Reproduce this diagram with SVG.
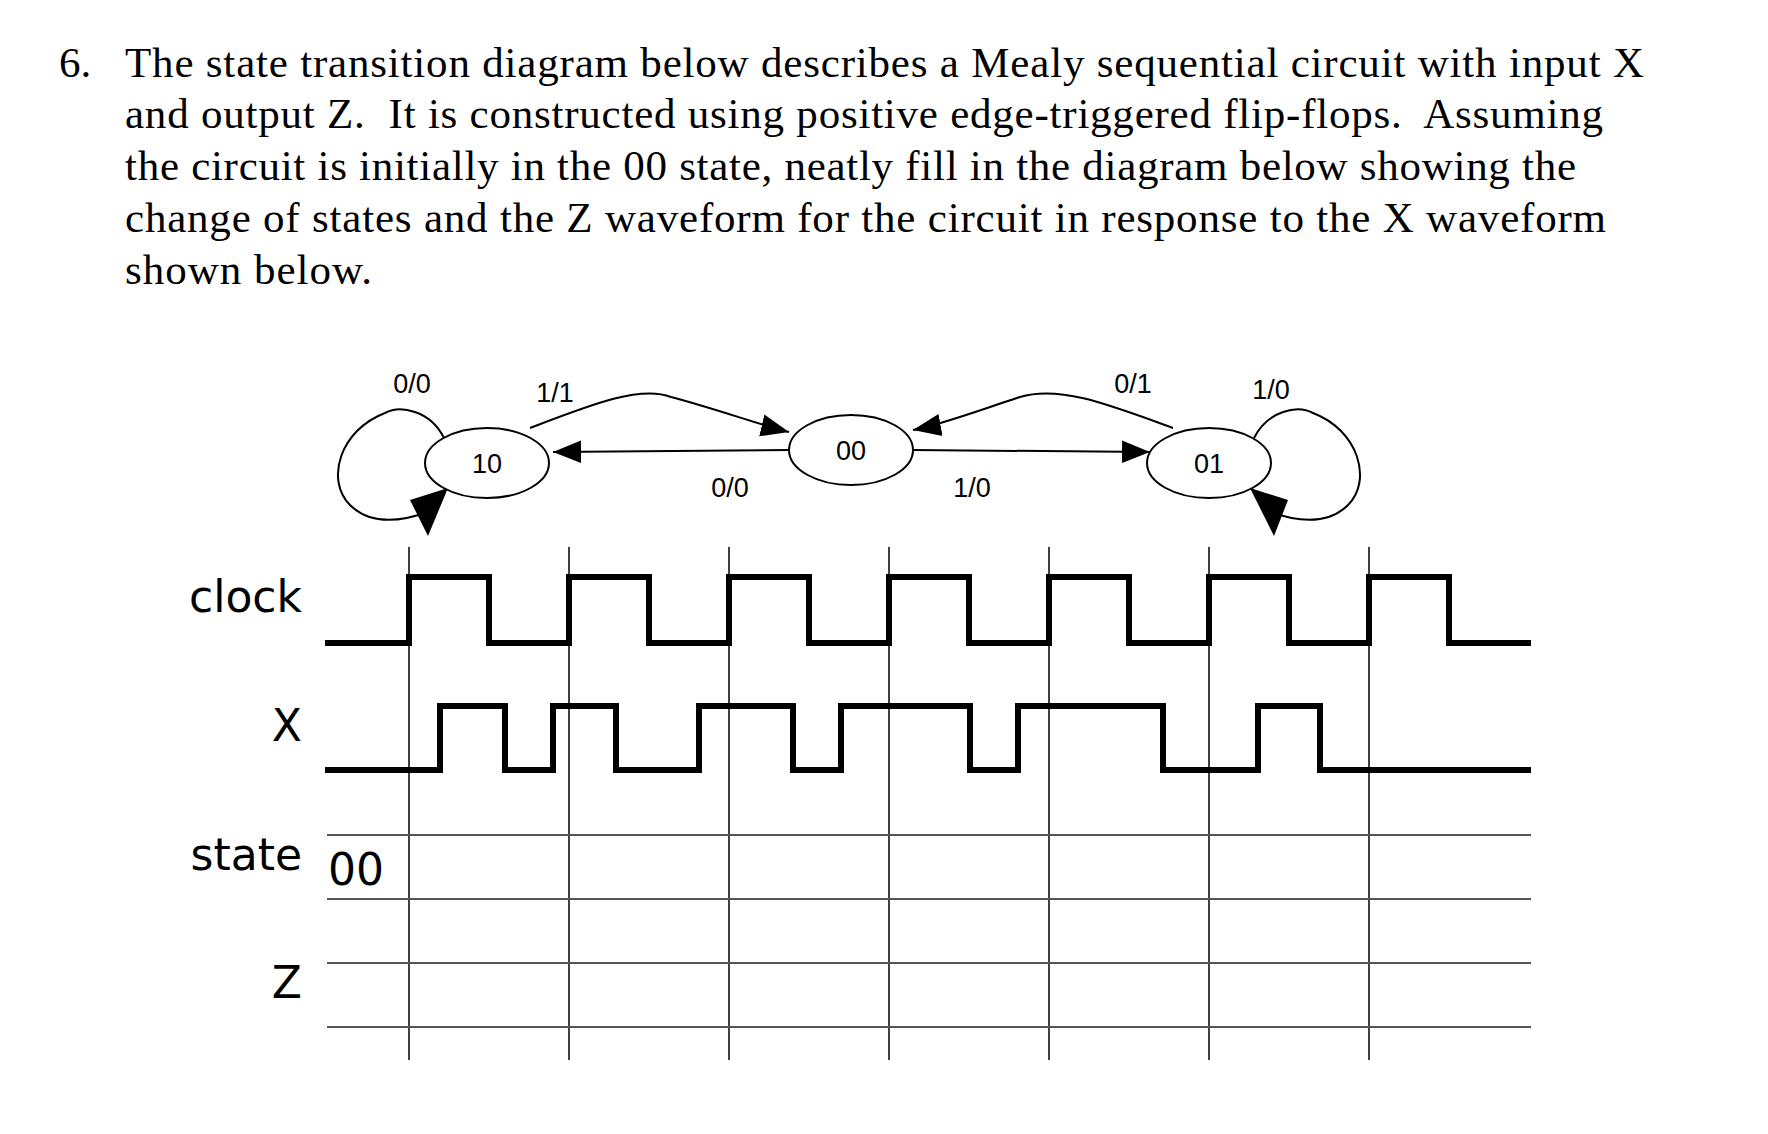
<svg xmlns="http://www.w3.org/2000/svg" width="1768" height="1134" viewBox="0 0 1768 1134">
<style>
.t{font-family:"Liberation Serif",serif;font-size:43px;fill:#000}
.s{font-family:"Liberation Sans",sans-serif;font-size:27px;fill:#000}
.l{font-family:"DejaVu Sans",sans-serif;font-size:44px;fill:#000}
.n{fill:#fff;stroke:#000;stroke-width:2}
.e{fill:none;stroke:#000;stroke-width:2}
.w{fill:none;stroke:#000;stroke-width:6}
.g{stroke:#000;stroke-width:1.5}
.h{stroke:#555;stroke-width:2}
</style>
<defs>
<marker id="b" viewBox="0 0 10 10" refX="10" refY="5" markerWidth="28" markerHeight="28" markerUnits="userSpaceOnUse" orient="auto"><path d="M0,1L10,5L0,9z"/></marker></defs>
<rect width="1768" height="1134" fill="#fff"/>
<g id="title">
<text class="t" x="59" y="77">6.</text>
<text class="t" x="125" y="77" textLength="1519" lengthAdjust="spacing">The state transition diagram below describes a Mealy sequential circuit with input X</text>
<text class="t" x="125" y="128" textLength="1478" lengthAdjust="spacing" xml:space="preserve">and output Z.  It is constructed using positive edge-triggered flip-flops.  Assuming</text>
<text class="t" x="125" y="180" textLength="1451" lengthAdjust="spacing">the circuit is initially in the 00 state, neatly fill in the diagram below showing the</text>
<text class="t" x="125" y="232" textLength="1481" lengthAdjust="spacing">change of states and the Z waveform for the circuit in response to the X waveform</text>
<text class="t" x="125" y="284" textLength="247" lengthAdjust="spacing">shown below.</text>
</g>
<g id="connectors">
<line class="e" x1="789" y1="450" x2="553" y2="452" marker-end="url(#b)"/>
<line class="e" x1="913" y1="450" x2="1150" y2="452" marker-end="url(#b)"/>
<path class="e" d="M530,428 C590,405 640,385 671,397 C720,410 760,425 789,432" marker-end="url(#b)"/>
<path class="e" d="M1173,428 C1110,405 1060,385 1020,397 C980,410 940,425 913,430" marker-end="url(#b)"/>
<path class="e" d="M444,438 C430,410 400,405 385,413 C340,430 325,480 350,505 C370,525 400,522 428,512"/>
<polygon points="410,500 448,488 428,536"/>
<path class="e" d="M1254,438 C1268,410 1298,405 1313,413 C1358,430 1373,480 1348,505 C1328,525 1298,522 1270,512"/>
<polygon points="1288,500 1250,488 1274,536"/>
</g>
<g id="s10"><ellipse class="n" cx="487" cy="463" rx="62" ry="35"/><text class="s" x="487" y="473" text-anchor="middle">10</text></g>
<g id="s00"><ellipse class="n" cx="851" cy="450" rx="62" ry="35"/><text class="s" x="851" y="460" text-anchor="middle">00</text></g>
<g id="s01"><ellipse class="n" cx="1209" cy="463" rx="62" ry="35"/><text class="s" x="1209" y="473" text-anchor="middle">01</text></g>
<g id="labels">
<text class="s" x="412" y="393" text-anchor="middle">0/0</text>
<text class="s" x="555" y="402" text-anchor="middle">1/1</text>
<text class="s" x="730" y="497" text-anchor="middle">0/0</text>
<text class="s" x="972" y="497" text-anchor="middle">1/0</text>
<text class="s" x="1133" y="393" text-anchor="middle">0/1</text>
<text class="s" x="1271" y="399" text-anchor="middle">1/0</text>
</g>
<g id="grid">
<line class="g" x1="409" y1="547" x2="409" y2="1060"/><line class="g" x1="569" y1="547" x2="569" y2="1060"/>
<line class="g" x1="729" y1="547" x2="729" y2="1060"/><line class="g" x1="889" y1="547" x2="889" y2="1060"/>
<line class="g" x1="1049" y1="547" x2="1049" y2="1060"/><line class="g" x1="1209" y1="547" x2="1209" y2="1060"/>
<line class="g" x1="1369" y1="547" x2="1369" y2="1060"/>
<line class="h" x1="327" y1="835" x2="1531" y2="835"/><line class="h" x1="327" y1="899" x2="1531" y2="899"/>
<line class="h" x1="327" y1="963" x2="1531" y2="963"/><line class="h" x1="327" y1="1027" x2="1531" y2="1027"/>
</g>
<g id="waves">
<path class="w" d="M325,643H409V577H489V643H569V577H649V643H729V577H809V643H889V577H969V643H1049V577H1129V643H1209V577H1289V643H1369V577H1449V643H1531"/>
<path class="w" d="M325,770H440V706H505V770H553V706H616V770H699V706H793V770H841V706H970V770H1018V706H1163V770H1258V706H1320V770H1531"/>
</g>
<g id="rowlabels">
<text class="l" x="302" y="612" text-anchor="end">clock</text>
<text class="l" x="302" y="741" text-anchor="end">X</text>
<text class="l" x="302" y="870" text-anchor="end">state</text>
<text class="l" x="328" y="885">00</text>
<text class="l" x="302" y="998" text-anchor="end">Z</text>
</g>
</svg>
